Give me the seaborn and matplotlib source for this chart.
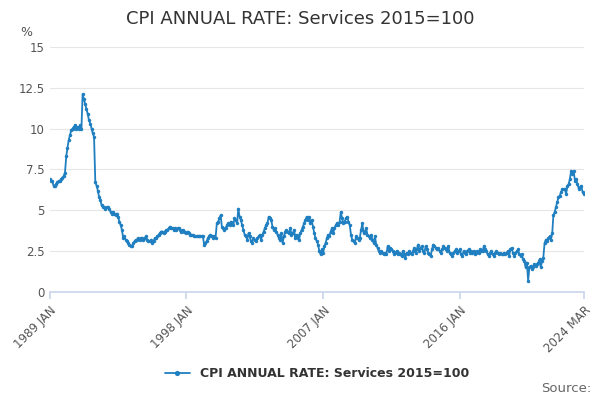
import matplotlib
matplotlib.use("Agg")
import matplotlib.pyplot as plt
import seaborn as sns
import pandas as pd

start_month = "1989-01"
values_by_year = [
 [6.9,6.8,6.8,6.5,6.5,6.6,6.7,6.8,6.8,6.9,7.0,7.1],
 [7.3,8.3,8.8,9.3,9.6,9.9,10.0,10.1,10.2,10.0,10.1,10.0],
 [10.2,10.0,12.1,11.8,11.5,11.2,10.9,10.5,10.3,10.0,9.7,9.5],
 [6.7,6.5,6.2,5.8,5.6,5.3,5.2,5.2,5.1,5.2,5.2,5.1],
 [4.9,4.8,4.9,4.8,4.7,4.8,4.6,4.3,4.1,3.8,3.3,3.4],
 [3.2,3.1,3.0,2.9,2.8,2.8,3.0,3.1,3.2,3.2,3.3,3.2],
 [3.3,3.3,3.2,3.3,3.4,3.2,3.1,3.1,3.2,3.0,3.1,3.3],
 [3.3,3.4,3.5,3.6,3.7,3.7,3.6,3.7,3.8,3.8,3.9,4.0],
 [3.9,3.9,3.8,3.9,3.8,3.9,3.9,3.8,3.7,3.8,3.7,3.7],
 [3.6,3.7,3.6,3.5,3.5,3.5,3.4,3.4,3.4,3.4,3.4,3.4],
 [3.4,3.4,2.9,3.0,3.1,3.3,3.4,3.5,3.4,3.3,3.4,3.3],
 [4.2,4.3,4.5,4.7,4.0,3.9,3.8,3.9,4.1,4.2,4.1,4.3],
 [4.2,4.1,4.5,4.4,4.2,5.1,4.6,4.4,4.1,3.8,3.5,3.4],
 [3.2,3.6,3.4,3.1,3.0,3.3,3.2,3.1,3.3,3.4,3.5,3.2],
 [3.5,3.7,3.9,4.1,4.2,4.6,4.5,4.4,4.0,3.8,3.9,3.7],
 [3.5,3.3,3.2,3.6,3.0,3.4,3.7,3.8,3.7,3.6,3.9,3.5],
 [3.6,3.8,3.3,3.5,3.3,3.2,3.6,3.8,4.0,4.2,4.4,4.6],
 [4.4,4.6,4.2,4.4,4.0,3.6,3.3,3.1,2.9,2.5,2.3,2.6],
 [2.4,2.8,3.0,3.3,3.5,3.4,3.7,3.9,3.6,3.9,4.1,4.2],
 [4.1,4.3,4.9,4.5,4.2,4.3,4.5,4.6,4.3,4.1,3.5,3.2],
 [3.1,3.0,3.4,3.3,3.2,3.3,3.8,4.2,3.6,3.7,3.9,3.5],
 [3.4,3.3,3.5,3.2,3.0,3.4,2.9,2.7,2.5,2.4,2.5,2.4],
 [2.3,2.4,2.3,2.8,2.5,2.7,2.6,2.5,2.3,2.4,2.5,2.3],
 [2.4,2.3,2.2,2.5,2.3,2.1,2.4,2.3,2.5,2.4,2.3,2.5],
 [2.7,2.4,2.6,2.9,2.5,2.7,2.8,2.5,2.4,2.8,2.6,2.4],
 [2.3,2.2,2.6,2.9,2.8,2.7,2.6,2.7,2.5,2.4,2.6,2.8],
 [2.7,2.6,2.5,2.8,2.4,2.3,2.2,2.4,2.5,2.6,2.4,2.5],
 [2.6,2.3,2.2,2.5,2.4,2.3,2.5,2.6,2.4,2.5,2.4,2.5],
 [2.3,2.4,2.5,2.4,2.6,2.5,2.5,2.8,2.6,2.5,2.3,2.2],
 [2.4,2.5,2.3,2.2,2.4,2.5,2.4,2.3,2.4,2.3,2.3,2.4],
 [2.3,2.4,2.5,2.2,2.6,2.7,2.4,2.2,2.4,2.5,2.6,2.3],
 [2.2,2.3,2.0,1.9,1.5,1.8,0.7,1.5,1.6,1.4,1.5,1.7],
 [1.6,1.7,1.8,2.0,1.5,1.9,2.1,3.0,3.2,3.1,3.3,3.4],
 [3.2,3.6,4.7,4.9,5.2,5.5,5.8,5.9,6.1,6.3,6.3,6.3],
 [6.0,6.5,6.6,6.9,7.4,7.2,7.4,6.8,6.9,6.6,6.3,6.4],
 [6.5,6.1,6.0],
]
series_name = "CPI ANNUAL RATE: Services 2015=100"
tick_labels = ["1989 JAN", "1998 JAN", "2007 JAN", "2016 JAN", "2024 MAR"]
tick_dates = ["1989-01-01", "1998-01-01", "2007-01-01", "2016-01-01", "2024-03-01"]

vals = [v for yr in values_by_year for v in yr]
dates = pd.date_range(start_month + "-01", periods=len(vals), freq="MS")
df = pd.DataFrame({"date": dates, "value": vals})

sns.set_theme(style="white")
plt.rcParams['font.family'] = ['DejaVu Sans']
fig, ax = plt.subplots(figsize=(6, 4), dpi=100)
fig.subplots_adjust(left=0.083, right=0.973, top=0.883, bottom=0.27)
color = "#1f7fc0"
sns.lineplot(data=df, x="date", y="value", ax=ax, color=color, lw=1.3,
             marker="o", markersize=2.5, markeredgewidth=0, label=series_name)
ax.set_ylim(0, 15)
ax.set_yticks([0, 2.5, 5, 7.5, 10, 12.5, 15])
ax.set_yticklabels(["0", "2.5", "5", "7.5", "10", "12.5", "15"], fontsize=8.5, color="#555555")
ax.yaxis.grid(True, color="#e6e6e6", lw=0.8)
ax.set_xlim(pd.Timestamp("1989-01-01"), pd.Timestamp("2024-03-01"))
ax.set_xticks([pd.Timestamp(d) for d in tick_dates])
ax.set_xticklabels(tick_labels, rotation=45, ha="right", rotation_mode="anchor", fontsize=8.5, color="#555555")
ax.minorticks_off()
ax.tick_params(axis="x", which="major", length=5, color="#ccd6eb", bottom=True)
ax.tick_params(axis="y", length=0)
for s in ["top", "right", "left"]:
    ax.spines[s].set_visible(False)
ax.spines["bottom"].set_color("#ccd6eb")
ax.set_xlabel(""); ax.set_ylabel("")
fig.text(0.033, 0.91, "%", fontsize=9, color="#555555")
fig.suptitle("CPI ANNUAL RATE: Services 2015=100", y=0.975, fontsize=13, color="#333333")
ax.legend(loc="upper center", bbox_to_anchor=(0.5, -0.26), frameon=False,
          prop={"size": 9, "weight": "bold"}, labelcolor="#333333", markerscale=1.5)
fig.text(0.985, 0.02, "Source:", ha="right", fontsize=9.5, color="#666666")
fig.savefig("out.png", dpi=100)
